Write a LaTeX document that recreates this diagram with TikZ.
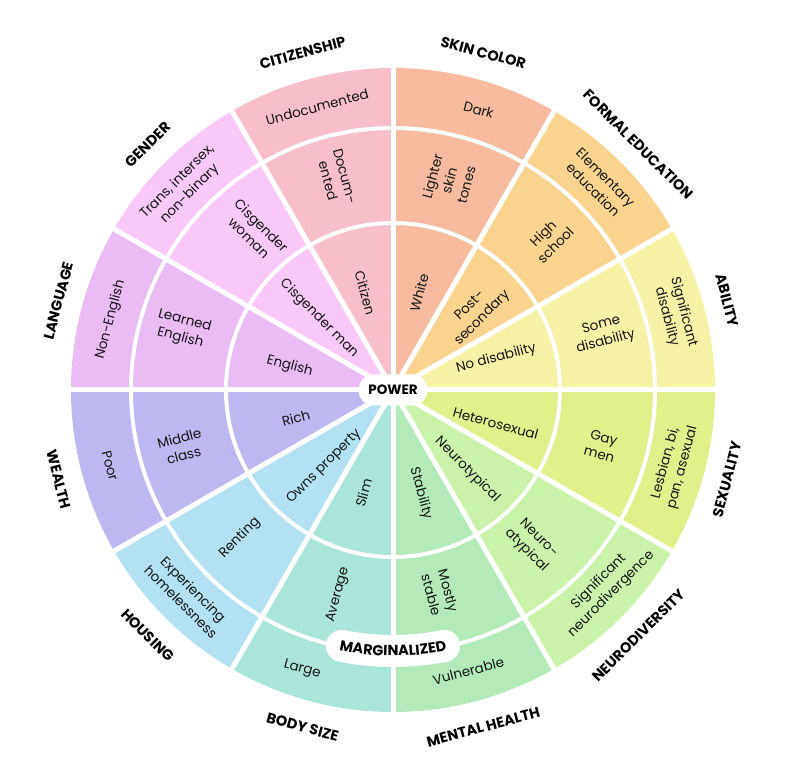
\documentclass[tikz,border=0pt]{standalone}
\usepackage{fontspec}
\setmainfont{Poppins}
\usepackage{tikz}
\usetikzlibrary{decorations.text}
\usepackage{xcolor}

\definecolor{citizencol}{HTML}{F8BFCB}
\definecolor{skincol}{HTML}{F8BBA0}
\definecolor{educol}{HTML}{FAD48E}
\definecolor{abilitycol}{HTML}{F6F2A6}
\definecolor{sexcol}{HTML}{E2F08C}
\definecolor{neurocol}{HTML}{CAF2A8}
\definecolor{mentalcol}{HTML}{B4EAB9}
\definecolor{bodycol}{HTML}{AAE5DA}
\definecolor{housecol}{HTML}{B2E1F2}
\definecolor{wealthcol}{HTML}{BEB8F2}
\definecolor{langcol}{HTML}{E9BCF3}
\definecolor{gendercol}{HTML}{F8C9F6}
\definecolor{txtcol}{HTML}{161616}

\tikzset{
  ringtxt/.style={font=\fontsize{13.5}{17.5}\selectfont, align=center, text=txtcol, inner sep=0pt},
  cattxt/.style={font=\bfseries\fontsize{14.5}{16}\selectfont, text=black, inner sep=0pt},
  sepline/.style={white, line width=5pt},
  ringline/.style={white, line width=4pt},
  pill/.style={fill=white, rounded corners=14pt, minimum width=68pt, minimum height=31pt,
    inner sep=2pt, font=\bfseries\fontsize{13.5}{14}\selectfont, text=black}
}

\begin{document}
\begin{tikzpicture}
\useasboundingbox (-393pt,-380pt) rectangle (407pt,390pt);

% Coloured sectors, one per category
\fill[abilitycol] (0,0) -- (0:322pt) arc[start angle=0, end angle=30, radius=322pt] -- cycle;
\fill[educol] (0,0) -- (30:322pt) arc[start angle=30, end angle=60, radius=322pt] -- cycle;
\fill[skincol] (0,0) -- (60:322pt) arc[start angle=60, end angle=90, radius=322pt] -- cycle;
\fill[citizencol] (0,0) -- (90:322pt) arc[start angle=90, end angle=120, radius=322pt] -- cycle;
\fill[gendercol] (0,0) -- (120:322pt) arc[start angle=120, end angle=150, radius=322pt] -- cycle;
\fill[langcol] (0,0) -- (150:322pt) arc[start angle=150, end angle=180, radius=322pt] -- cycle;
\fill[wealthcol] (0,0) -- (180:322pt) arc[start angle=180, end angle=210, radius=322pt] -- cycle;
\fill[housecol] (0,0) -- (210:322pt) arc[start angle=210, end angle=240, radius=322pt] -- cycle;
\fill[bodycol] (0,0) -- (240:322pt) arc[start angle=240, end angle=270, radius=322pt] -- cycle;
\fill[mentalcol] (0,0) -- (270:322pt) arc[start angle=270, end angle=300, radius=322pt] -- cycle;
\fill[neurocol] (0,0) -- (300:322pt) arc[start angle=300, end angle=330, radius=322pt] -- cycle;
\fill[sexcol] (0,0) -- (330:322pt) arc[start angle=330, end angle=360, radius=322pt] -- cycle;

% White separators between sectors
\draw[sepline] (0:322pt) -- (180:322pt);
\draw[sepline] (30:322pt) -- (210:322pt);
\draw[sepline] (60:322pt) -- (240:322pt);
\draw[sepline] (90:322pt) -- (270:322pt);
\draw[sepline] (120:322pt) -- (300:322pt);
\draw[sepline] (150:322pt) -- (330:322pt);

% White rings
\draw[ringline] (0,0) circle[radius=167pt];
\draw[ringline] (0,0) circle[radius=262pt];

% Inner ring
\node[ringtxt, rotate=15] (noDis) at (17:108pt) {No disability};
\node[ringtxt, rotate=45] (postSec) at (43:114pt) {Post-\\secondary};
\node[ringtxt, rotate=75] (white) at (75:101pt) {White};
\node[ringtxt, rotate=-75] (citizen) at (106:101pt) {Citizen};
\node[ringtxt, rotate=-45] (cisMan) at (136:103pt) {Cisgender man};
\node[ringtxt, rotate=-15] (english) at (167:106pt) {English};
\node[ringtxt, rotate=15] (rich) at (196:101pt) {Rich};
\node[ringtxt, rotate=45] (ownsProp) at (228:103pt) {Owns property};
\node[ringtxt, rotate=75] (slim) at (254:107pt) {Slim};
\node[ringtxt, rotate=-75] (stability) at (285:107pt) {Stability};
\node[ringtxt, rotate=-45] (neurotyp) at (313:109pt) {Neurotypical};
\node[ringtxt, rotate=-15] (hetero) at (342:108pt) {Heterosexual};

% Middle ring
\node[ringtxt, rotate=15] (someDis) at (15:218pt) {Some\\disability};
\node[ringtxt, rotate=45] (highSch) at (44:217pt) {High\\school};
\node[ringtxt, rotate=75] (lighter) at (75:217pt) {Lighter\\skin\\tones};
\node[ringtxt, rotate=-75] (documented) at (105:219pt) {Docum-\\ented};
\node[ringtxt, rotate=-45] (cisWoman) at (131:210pt) {Cisgender\\woman};
\node[ringtxt, rotate=-15] (learned) at (164:219pt) {Learned\\English};
\node[ringtxt, rotate=15] (middle) at (195:219pt) {Middle\\class};
\node[ringtxt, rotate=45] (renting) at (224:213pt) {Renting};
\node[ringtxt, rotate=75] (average) at (255:212pt) {Average};
\node[ringtxt, rotate=-75] (mostly) at (283:208pt) {Mostly\\stable};
\node[ringtxt, rotate=-45] (neuroAty) at (312:208pt) {Neuro-\\atypical};
\node[ringtxt, rotate=-15] (gayMen) at (345:216pt) {Gay\\men};

% Outer ring
\node[ringtxt, rotate=-75] (sigDis) at (15:292pt) {Significant\\disability};
\node[ringtxt, rotate=-45] (elementary) at (45:292pt) {Elementary\\education};
\node[ringtxt, rotate=-15] (dark) at (73:293pt) {Dark};
\node[ringtxt, rotate=15] (undoc) at (105:293pt) {Undocumented};
\node[ringtxt, rotate=45] (trans) at (136:291pt) {Trans, intersex,\\non-binary};
\node[ringtxt, rotate=75] (nonEng) at (166:291pt) {Non-English};
\node[ringtxt, rotate=-75] (poor) at (195:293pt) {Poor};
\node[ringtxt, rotate=-45] (homeless) at (225:291pt) {Experiencing\\homelessness};
\node[ringtxt, rotate=-15] (large) at (252:294pt) {Large};
\node[ringtxt, rotate=15] (vulnerable) at (285:291pt) {Vulnerable};
\node[ringtxt, rotate=45] (sigNeuro) at (317:290pt) {Significant\\neurodivergence};
\node[ringtxt, rotate=75] (lesbian) at (345:291pt) {Lesbian, bi,\\pan, asexual};

% Category names round the wheel
\node[cattxt, rotate=-75] (ability) at (15:346pt) {ABILITY};
\node[cattxt, rotate=-45] (formalEdu) at (45:347pt) {FORMAL EDUCATION};
\node[cattxt, rotate=-15] (skinColor) at (75:349pt) {SKIN COLOR};
\node[cattxt, rotate=15] (citizenship) at (105:349pt) {CITIZENSHIP};
\node[cattxt, rotate=45] (gender) at (135:347pt) {GENDER};
\node[cattxt, rotate=75] (language) at (165:346pt) {LANGUAGE};
\node[cattxt, rotate=-75] (wealth) at (195:346pt) {WEALTH};
\node[cattxt, rotate=-45] (housing) at (225:347pt) {HOUSING};
\node[cattxt, rotate=-15] (bodySize) at (255:349pt) {BODY SIZE};
\node[cattxt, rotate=15] (mentalHealth) at (285:349pt) {MENTAL HEALTH};
\node[cattxt, rotate=45] (neurodiv) at (315:347pt) {NEURODIVERSITY};
\node[cattxt, rotate=75] (sexuality) at (345:346pt) {SEXUALITY};

% POWER in the middle
\node[pill] (power) at (0,0) {POWER};

% MARGINALIZED on the middle ring, bottom
\draw[white, line width=32pt, line cap=round] (258.7:261pt) arc[start angle=258.7, end angle=281.3, radius=261pt];
\path[decorate, decoration={text along path, text align=center,
  text={|\bfseries\fontsize{14.5}{15}\selectfont|MARGINALIZED}}]
  (245:266pt) arc[start angle=245, end angle=295, radius=266pt];

\end{tikzpicture}
\end{document}
